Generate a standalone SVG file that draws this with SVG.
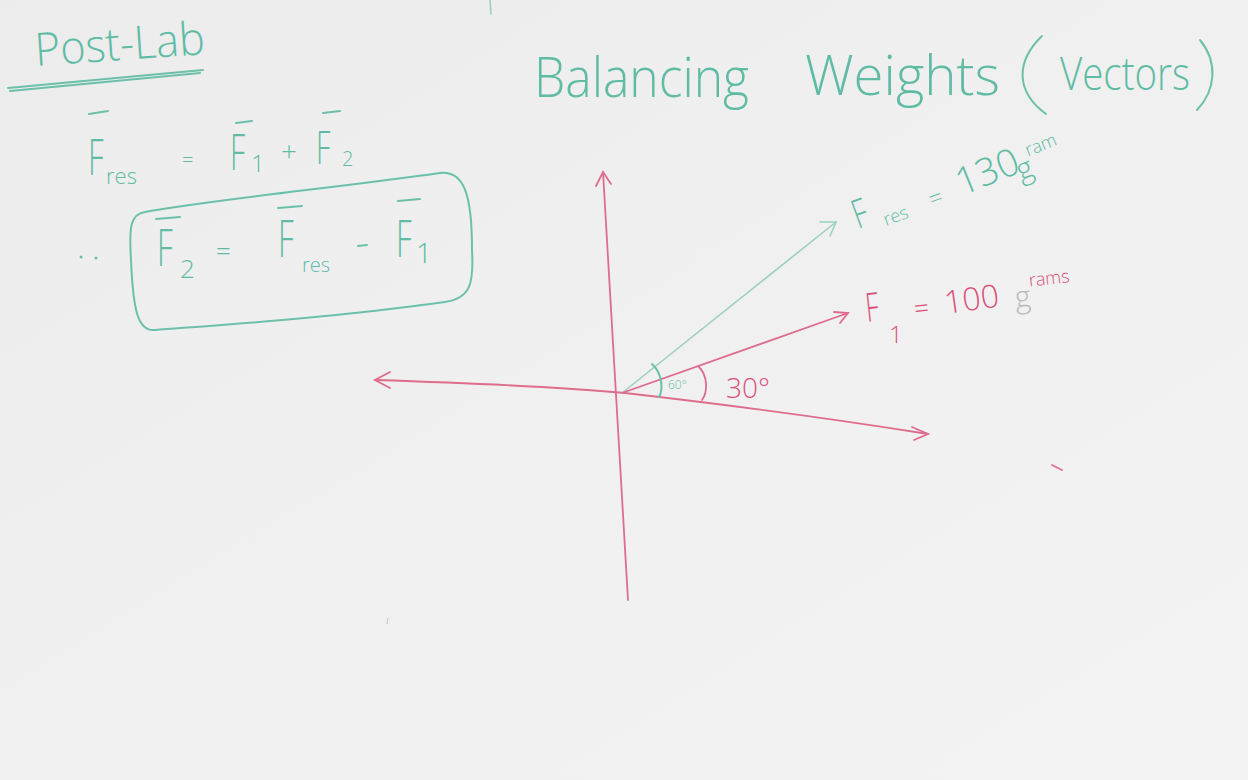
<svg xmlns="http://www.w3.org/2000/svg" width="1248" height="780" viewBox="0 0 1248 780">
<defs>
<linearGradient id="bg" x1="0" y1="0" x2="1" y2="1">
<stop offset="0" stop-color="#ececec"/>
<stop offset="0.5" stop-color="#f0f0f0"/>
<stop offset="1" stop-color="#f3f3f3"/>
</linearGradient>
<style>
.t{fill:#5fbba4;font-family:"Open Sans","DejaVu Sans",sans-serif;font-weight:300}
.r{fill:#d9507a;font-family:"Open Sans","DejaVu Sans",sans-serif;font-weight:300}
.tl{stroke:#6cc0aa;fill:none;stroke-width:2;stroke-linecap:round}
.rl{stroke:#de6c8c;fill:none;stroke-width:1.8;stroke-linecap:round}
.gl{stroke:#9ccfc2;fill:none;stroke-width:1.6;stroke-linecap:round}
</style>
</defs>
<rect width="1248" height="780" fill="url(#bg)"/>
<g id="notes">
<text class="t" x="36" y="66" font-size="46" textLength="170" lengthAdjust="spacingAndGlyphs" transform="rotate(-4 36 66)">Post-Lab</text>
<path class="tl" d="M8 88 L203 70 M10 91 L200 73"/>
<text class="t" font-size="50" transform="translate(88 175) scale(0.62 1)">F</text>
<path class="tl" d="M89 114 L108 111"/>
<text class="t" x="106" y="184" font-size="22">res</text>
<text class="t" x="182" y="167" font-size="20">=</text>
<text class="t" font-size="50" transform="translate(230 170) scale(0.6 1)">F</text>
<path class="tl" d="M236 123 L252 121"/>
<text class="t" x="251" y="172" font-size="24">1</text>
<text class="t" x="281" y="161" font-size="28">+</text>
<text class="t" font-size="46" transform="translate(316 164) scale(0.62 1)">F</text>
<path class="tl" d="M323 113 L340 111"/>
<text class="t" x="342" y="166" font-size="20">2</text>
<circle cx="81" cy="257" r="1.5" fill="#6cc0aa"/>
<circle cx="96" cy="258" r="1.5" fill="#6cc0aa"/>
<path class="tl" d="M145 212 C210 200 350 186 440 173 C466 170 472 200 472 250 C474 285 470 298 445 302 C330 318 220 325 155 330 C138 332 133 310 131 260 C129 228 130 214 145 212 Z"/>
<text class="t" font-size="52" transform="translate(157 266) scale(0.6 1)">F</text>
<path class="tl" d="M156 219 L180 217"/>
<text class="t" x="180" y="278" font-size="26">2</text>
<text class="t" x="216" y="260" font-size="26">=</text>
<text class="t" font-size="52" transform="translate(278 257) scale(0.6 1)">F</text>
<path class="tl" d="M278 208 L302 206"/>
<text class="t" x="302" y="272" font-size="20">res</text>
<path class="tl" d="M358 246 L367 245"/>
<text class="t" font-size="52" transform="translate(396 257) scale(0.6 1)">F</text>
<path class="tl" d="M398 201 L420 199"/>
<text class="t" x="416" y="263" font-size="28">1</text>
</g>
<g id="title">
<path class="gl" d="M490 0 L491 14"/>
<text class="t" x="534" y="97" font-size="56" textLength="215" lengthAdjust="spacingAndGlyphs">Balancing</text>
<text class="t" x="805" y="95" font-size="56" textLength="195" lengthAdjust="spacingAndGlyphs">Weights</text>
<path class="tl" d="M1042 36 C1015 62 1016 92 1046 114"/>
<text class="t" x="1060" y="90" font-size="46" textLength="130" lengthAdjust="spacingAndGlyphs">Vectors</text>
<path class="tl" d="M1200 40 C1218 62 1216 90 1197 110"/>
</g>
<g id="axes">
<path class="rl" d="M603 172 L628 600"/>
<path class="rl" d="M596 186 L603 172 L611 184"/>
<path class="rl" d="M375 380 C470 383 560 387 625 393 C730 405 840 420 928 434"/>
<path class="rl" d="M390 372 L375 380 L390 388"/>
<path class="rl" d="M912 427 L928 434 L914 440"/>
</g>
<g id="vectors">
<path class="gl" d="M622 393 L836 222"/>
<path class="gl" d="M820 222 L836 222 L830 236"/>
<path class="rl" d="M622 393 L848 313"/>
<path class="rl" d="M834 312 L848 313 L840 323"/>
<path class="tl" stroke-width="1.5" d="M652 364 C663 374 663 390 659 397"/>
<path class="rl" d="M698 366 C708 375 708 392 702 400"/>
<text class="t" x="668" y="389" font-size="12">60°</text>
<text class="r" x="726" y="398" font-size="28">30°</text>
</g>
<g id="labels">
<text class="t" font-size="40" transform="translate(858 229) rotate(-20) scale(0.7 1)">F</text>
<text class="t" font-size="18" transform="translate(886 226) rotate(-20)">res</text>
<text class="t" font-size="24" transform="translate(932 208) rotate(-20)">=</text>
<text class="t" font-size="38" transform="translate(962 196) rotate(-22)">130</text>
<text class="t" font-size="30" transform="translate(1021 181) rotate(-22)">g<tspan dy="-20" font-size="18">ram</tspan></text>
<text class="r" font-size="40" transform="translate(867 322) rotate(-6) scale(0.65 1)">F</text>
<text class="r" x="889" y="343" font-size="24">1</text>
<text class="r" font-size="26" transform="translate(915 318) rotate(-6)">=</text>
<text class="r" font-size="32" transform="translate(946 314) rotate(-8)">100</text>
<text class="r" font-size="30" transform="translate(1016 308) rotate(-6)"><tspan fill="#b9b9b9">g</tspan><tspan dy="-20" font-size="18">rams</tspan></text>
<path class="rl" d="M1052 465 L1062 470"/>
<path stroke="#c8c8c8" stroke-width="1.2" d="M388 618 L387 624"/>
</g>
</svg>
